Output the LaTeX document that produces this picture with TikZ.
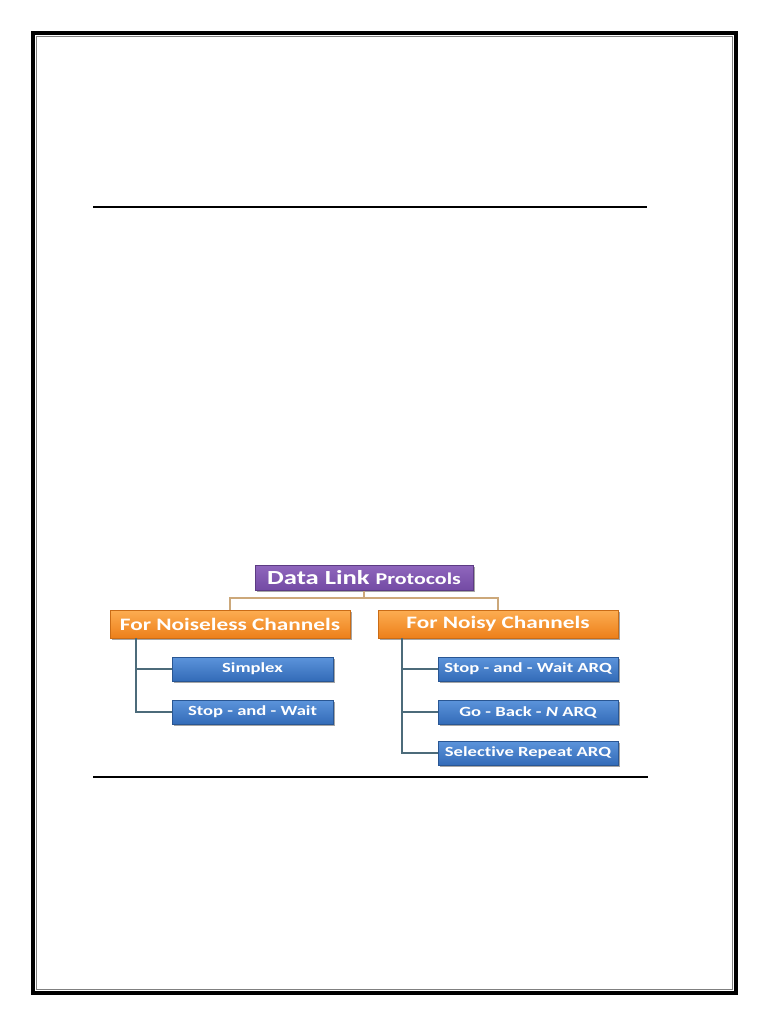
\documentclass[tikz,border=0pt]{standalone}
\usepackage{fontspec}
\setmainfont{Carlito}[FakeStretch=1.33, Ligatures=NoCommon]
\usetikzlibrary{shadows}
\definecolor{dlpurple}{rgb}{0.45,0.29,0.64}
\definecolor{dlpurplet}{rgb}{0.56,0.40,0.74}
\definecolor{dlorange}{rgb}{0.93,0.50,0.10}
\definecolor{dlorranget}{rgb}{0.99,0.68,0.32}
\definecolor{dlblue}{rgb}{0.20,0.42,0.72}
\definecolor{dlbluet}{rgb}{0.36,0.58,0.86}
\definecolor{dltan}{rgb}{0.80,0.66,0.48}
\definecolor{dlslate}{rgb}{0.30,0.42,0.48}

\begin{document}
\begin{tikzpicture}[x=1pt, y=-1pt, line join=miter]

	\useasboundingbox (0,0) rectangle (768,1024);
	\tikzstyle{box}=[inner sep=0pt, text=white, font=\bfseries,
	  drop shadow={shadow xshift=1.5pt, shadow yshift=-1.5pt, opacity=0.35, fill=black}]
	\tikzstyle{rootbox}=[box, minimum width=218pt, minimum height=25pt,
	  top color=dlpurplet, bottom color=dlpurple, draw=dlpurple!80!black, line width=0.6pt]
	\tikzstyle{groupbox}=[box, minimum width=240pt, minimum height=28pt, font=\bfseries\fontsize{17.5}{20}\selectfont,
	  top color=dlorranget, bottom color=dlorange, draw=dlorange!85!black, line width=0.6pt]
	\tikzstyle{leafbox}=[box, minimum height=24pt, font=\bfseries\fontsize{14}{16}\selectfont,
	  top color=dlbluet, bottom color=dlblue, draw=dlblue!80!black, line width=0.6pt]
	\tikzstyle{tanline}=[draw=dltan, line width=1.6pt]
	\tikzstyle{slateline}=[draw=dlslate, line width=1.6pt]

	% page frame and rules
	\draw [line width=3.5pt] (33,33) rectangle (736,993);
	\draw [gray, line width=1pt] (36.5,36.5) rectangle (732.5,989.5);
	\draw [line width=2pt] (93,207) -- (647,207);
	\draw [line width=2pt] (93,777) -- (648,777);

	% protocol tree
	\node [rootbox] (dlp) at (364,578)
	  {\fontsize{20}{22}\selectfont Data Link \fontsize{16.5}{18}\selectfont Protocols};
	\node [groupbox] (noiseless) at (230,624) {For Noiseless Channels};
	\node [groupbox] (noisy) at (498,624) {For Noisy Channels};

	\node [leafbox, minimum width=161pt] (simplex) at (252.5,669) {Simplex};
	\node [leafbox, minimum width=161pt] (stopwait) at (252.5,712) {Stop - and - Wait};

	\node [leafbox, minimum width=180pt] (swarq) at (528,669) {Stop - and - Wait ARQ};
	\node [leafbox, minimum width=180pt] (gbnarq) at (528,712) {Go - Back - \textit{N} ARQ};
	\node [leafbox, minimum width=180pt] (srarq) at (528,753) {Selective Repeat ARQ};

	\coordinate (fork) at (364,598);
	\coordinate (lbar) at (136,638);
	\coordinate (rbar) at (402,638);

	\draw [tanline] (dlp.south) -- (fork);
	\draw [tanline] (noiseless.north) |- (fork) -| (noisy.north);

	\draw [slateline] (lbar) |- (simplex.west);
	\draw [slateline] (lbar) |- (stopwait.west);
	\draw [slateline] (rbar) |- (swarq.west);
	\draw [slateline] (rbar) |- (gbnarq.west);
	\draw [slateline] (rbar) |- (srarq.west);

\end{tikzpicture}
\end{document}
